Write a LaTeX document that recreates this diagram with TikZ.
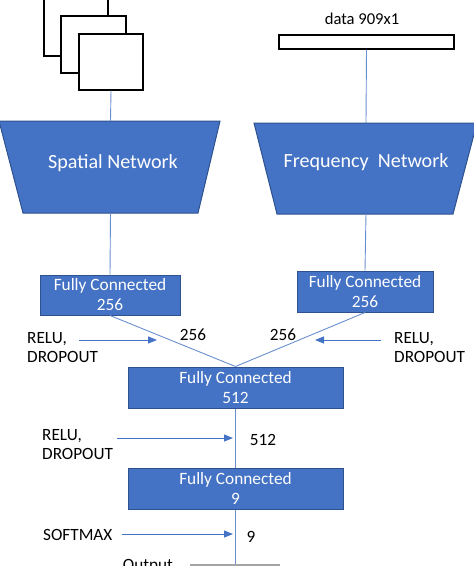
\documentclass[tikz,border=0pt]{standalone}
\usepackage{fontspec}
\setmainfont{Carlito}
\usetikzlibrary{arrows.meta}
\definecolor{boxblue}{HTML}{4472C4}
\definecolor{boxedge}{HTML}{2F528F}
\definecolor{linkblue}{HTML}{6A8FD0}
\definecolor{bargray}{HTML}{A5A5A5}
\begin{document}
\begin{tikzpicture}[x=1pt,y=-1pt,
  fcbox/.style={draw=boxedge,fill=boxblue,line width=1pt,text=white,align=center,
    font=\fontsize{17.3}{20}\selectfont,inner sep=0pt},
  netshape/.style={draw=boxedge,fill=boxblue,line width=1pt},
  nettext/.style={text=white,font=\fontsize{20.1}{22}\selectfont,inner sep=0pt},
  sheet/.style={draw=black,fill=white,line width=1.4pt},
  link/.style={draw=linkblue,line width=0.9pt},
  side/.style={draw=boxblue,line width=0.9pt,-{Triangle[length=9pt,width=7pt]}},
  lab/.style={font=\fontsize{17.2}{19}\selectfont,inner sep=0pt,align=left},
]
\useasboundingbox (0,0) rectangle (474,566);
\clip (0,0) rectangle (474,566);
% stacked image sheets
\draw[sheet] (44,-5) rectangle (108,56);
\draw[sheet] (61,16) rectangle (126,73);
\node[sheet,minimum width=64pt,minimum height=56pt,inner sep=0pt] (img) at (111,62) {};
% data bar
\node[draw=black,fill=white,line width=1.4pt,minimum width=175pt,minimum height=14pt,inner sep=0pt] (data) at (366.5,42) {};
\node[font=\fontsize{16.6}{18}\selectfont,inner sep=0pt] (datalab) at (362,19) {data 909x1};
% trapezoids
\draw[netshape] (-1,121) -- (220,121) -- (198,213) -- (23,213) -- cycle;
\coordinate (spT) at (110.5,121);
\coordinate (spB) at (110.5,213);
\node[nettext] (sp) at (113,163) {Spatial Network};
\draw[netshape] (254,123) -- (477,123) -- (453,214) -- (277,214) -- cycle;
\coordinate (frT) at (366,123);
\coordinate (frB) at (366,214);
\node[nettext] (fr) at (366,162) {Frequency\ \ Network};
% FC boxes
\node[fcbox,minimum width=140pt,minimum height=40pt] (fc1) at (110,295) {Fully Connected\\256};
\node[fcbox,minimum width=136pt,minimum height=41pt] (fc2) at (365,291.5) {Fully Connected\\256};
\node[fcbox,minimum width=215pt,minimum height=41pt] (fc3) at (235.5,387.5) {Fully Connected\\512};
\node[fcbox,minimum width=215pt,minimum height=41pt] (fc4) at (235.5,488.5) {Fully Connected\\9};
% connectors
\draw[link] (img.south) -- (spT);
\draw[link] (data.south) -- (frT);
\draw[link] (spB) -- (fc1.north);
\draw[link] (frB) -- (fc2.north);
\draw[link] (fc1.south) -- (fc3.north);
\draw[link] (fc2.south) -- (fc3.north);
\draw[link] (fc3.south) -- (fc4.north);
\fill[bargray] (190,564) rectangle (280,572);
\coordinate (out) at (235.5,564);
\draw[link] (fc4.south) -- (out);
% labels
\node[lab] (n256a) at (193,335) {256};
\node[lab] (n256b) at (283,335) {256};
\node[lab] (n512) at (263,440) {512};
\node[lab] (n9) at (251,537) {9};
\node[lab,anchor=north west] (relu1) at (27,332) {RELU,\\DROPOUT};
\node[lab,anchor=north west] (relu2) at (394,332) {RELU,\\DROPOUT};
\node[lab,anchor=north west] (relu3) at (42,429) {RELU,\\DROPOUT};
\node[lab,anchor=west] (soft) at (43,535) {SOFTMAX};
\node[lab,anchor=north] (outlab) at (148,559) {Output};
% side arrows
\coordinate (a1s) at (79,340); \coordinate (a1e) at (157,340);
\coordinate (a2s) at (381,340); \coordinate (a2e) at (315,340);
\coordinate (a3s) at (117,438); \coordinate (a3e) at (233,438);
\coordinate (a4s) at (122,534); \coordinate (a4e) at (233,534);
\draw[side] (a1s) -- (a1e);
\draw[side] (a2s) -- (a2e);
\draw[side] (a3s) -- (a3e);
\draw[side] (a4s) -- (a4e);
\end{tikzpicture}
\end{document}
